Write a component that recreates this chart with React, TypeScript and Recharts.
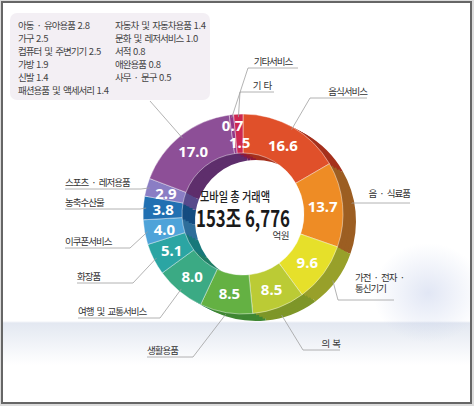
import React from 'react';
import { PieChart, Pie, Cell } from 'recharts';

// shares of mobile transaction value (%), clockwise from 12 o'clock
const categories = [
  '음식서비스',
  '음 · 식료품',
  '가전 · 전자 ·\n통신기기',
  '의 복',
  '생활용품',
  '여행 및 교통서비스',
  '화장품',
  '이쿠폰서비스',
  '농축수산물',
  '스포츠 · 레저용품',
  '기타 상품군',
  '기타서비스',
  '기 타',
];
const shares = [16.6, 13.7, 9.6, 8.5, 8.5, 8.0, 5.1, 4.0, 3.8, 2.9, 17.0, 0.7, 1.5];

// the grouped slice, listed in the box
const otherGoods = [
  '아동 · 유아용품', '가구', '컴퓨터 및 주변기기', '가방', '신발', '패션용품 및 액세서리',
  '자동차 및 자동차용품', '문화 및 레저서비스', '서적', '애완용품', '사무 · 문구',
];
const otherShares = [2.8, 2.5, 2.5, 1.9, 1.4, 1.4, 1.4, 1.0, 0.8, 0.8, 0.5];

const centerTitle = '모바일 총 거래액';
const centerTotal = '153조 6,776';
const centerUnit = '억원';

const faceColors = [
  '#E0502A', '#EE8C25', '#E6E02A', '#BBCB35', '#64B143', '#3BAA84', '#2BA5A3',
  '#4EA3D9', '#2170B2', '#8A7DC4', '#8D4F97', '#93378A', '#CE2850',
];
const sideColors = [
  '#A5301C', '#9C5E22', '#98A02A', '#7E9628', '#3F8733', '#1F7E66', '#17787A',
  '#2E6E9A', '#144C80', '#574A8C', '#5E2E6C', '#6A2264', '#8E1A38',
];

const data = categories.map((name, i) => ({ name, value: shares[i] }));

const CX = 238;
const CY = 209;
const R_IN = 61;
const R_OUT = 100;
const DEPTH = [13, 7];
const RAD = Math.PI / 180;
const KR = '"Noto Sans CJK KR", "Noto Sans", sans-serif';

// leader line elbows / text anchors for the outside labels
const callouts: any[] = [
  { elbow: [310, 98], end: 367, tx: 367, ty: 95, anchor: 'end' },
  { elbow: [352, 203], end: 410, tx: 410, ty: 197, anchor: 'end' },
  { elbow: [338, 300], end: 394, tx: 355, ty: 284, anchor: 'start' },
  { elbow: [303, 350], end: 340, tx: 340, ty: 347, anchor: 'end' },
  { elbow: [193, 357], end: 147, tx: 147, ty: 354, anchor: 'start' },
  { elbow: [160, 318], end: 78, tx: 78, ty: 315, anchor: 'start' },
  { elbow: [133, 283], end: 77, tx: 77, ty: 280, anchor: 'start' },
  { elbow: [130, 248], end: 65, tx: 65, ty: 245, anchor: 'start' },
  { elbow: [140, 209], end: 65, tx: 65, ty: 206, anchor: 'start' },
  { elbow: [141, 189], end: 65, tx: 65, ty: 186, anchor: 'start' },
  { elbow: [150, 101], end: 150 },
  { elbow: [248, 68], end: 298, tx: 273, ty: 65, anchor: 'middle' },
  { elbow: [240, 92], end: 274, tx: 262, ty: 89, anchor: 'middle' },
];

const valueRadius = (i: number) => (i === 11 ? 90 : i === 12 ? 72 : 80);

const renderLabel = (props: any) => {
  const { cx, cy, midAngle, outerRadius, index, value } = props;
  const dx = Math.cos(-midAngle * RAD);
  const dy = Math.sin(-midAngle * RAD);
  const c = callouts[index];
  const proj = Math.max(0, DEPTH[0] * dx + DEPTH[1] * dy);
  const sr = outerRadius + proj - 3;
  const sx = cx + sr * dx;
  const sy = cy + sr * dy;
  const vr = valueRadius(index);
  const lines = categories[index].split('\n');
  return (
    <g key={`lbl-${index}`}>
      <polyline
        points={`${sx},${sy} ${c.elbow[0]},${c.elbow[1]} ${c.end},${c.elbow[1]}`}
        fill="none"
        stroke="#a0a0a0"
        strokeWidth={0.8}
      />
      {c.tx !== undefined &&
        lines.map((t, k) => (
          <text
            key={k}
            x={c.tx}
            y={c.ty + k * 11 - (lines.length - 1) * 3}
            textAnchor={c.anchor}
            fontFamily={KR}
            fontSize={9.5}
            letterSpacing={-1}
            wordSpacing={2}
            fill="#333"
          >
            {t}
          </text>
        ))}
      <text
        x={cx + vr * dx}
        y={cy + vr * dy}
        textAnchor="middle"
        dominantBaseline="central"
        fontFamily='"Noto Sans", sans-serif'
        fontWeight={700}
        fontSize={15}
        fill="#fff"
      >
        {value.toFixed(1)}
      </text>
    </g>
  );
};

export default function App() {
  return (
    <div style={{ position: 'absolute', left: 0, top: 0, width: 474, height: 406, background: '#dcdcdc' }}>
      <div
        style={{
          position: 'absolute', left: 1, top: 1, width: 471, height: 403, boxSizing: 'border-box',
          border: '2px solid #666', overflow: 'hidden',
          background: 'linear-gradient(to bottom, #fff 0px, #fff 318px, #e3e8f1 320px, #fff 362px, #fff 100%)',
        }}
      >
        <div style={{
          position: 'absolute', left: 370, top: 240, width: 110, height: 100,
          background: 'radial-gradient(closest-side, rgba(170,185,225,0.35), rgba(255,255,255,0))',
        }} />
      </div>
      <div style={{ position: 'absolute', left: 0, top: 0 }}>
        <PieChart width={474} height={406}>
          {[1, 0.75, 0.5, 0.25].map((t) => (
            <Pie
              key={`side-${t}`}
              data={data}
              dataKey="value"
              cx={CX + DEPTH[0] * t}
              cy={CY + DEPTH[1] * t}
              innerRadius={R_IN}
              outerRadius={R_OUT}
              startAngle={90}
              endAngle={-270}
              stroke="none"
              isAnimationActive={false}
            >
              {data.map((_, i) => (
                <Cell key={i} fill={sideColors[i]} />
              ))}
            </Pie>
          ))}
          <Pie
            data={data}
            dataKey="value"
            cx={CX}
            cy={CY}
            innerRadius={R_IN}
            outerRadius={R_OUT}
            startAngle={90}
            endAngle={-270}
            stroke="rgba(255,255,255,0.55)"
            strokeWidth={0.8}
            label={renderLabel}
            labelLine={false}
            isAnimationActive={false}
          >
            {data.map((_, i) => (
              <Cell key={i} fill={faceColors[i]} />
            ))}
          </Pie>
        </PieChart>
      </div>
      <svg width={474} height={406} style={{ position: 'absolute', left: 0, top: 0, pointerEvents: 'none' }}>
        <rect x={10} y={13} width={200} height={87} rx={7} fill="#F3EFF4" />
        {otherGoods.map((g, i) => (
          <text
            key={g}
            x={i < 6 ? 18 : 115}
            y={28.5 + (i < 6 ? i : i - 6) * 13}
            fontFamily={KR}
            fontSize={9.5}
            fill="#444"
          >
            <tspan letterSpacing={-1} wordSpacing={2}>{g}</tspan>
            <tspan dx={2.5} letterSpacing={-0.3}>{otherShares[i].toFixed(1)}</tspan>
          </text>
        ))}
        <text x={200} y={201} fontFamily={KR} fontWeight={500} fontSize={13} fill="#222" textLength={70} lengthAdjust="spacingAndGlyphs">
          {centerTitle}
        </text>
        <text x={196} y={227} fontFamily={KR} fontWeight={700} fontSize={23} fill="#1a1a1a" textLength={94} lengthAdjust="spacingAndGlyphs">
          {centerTotal}
        </text>
        <text x={289} y={239} textAnchor="end" fontFamily={KR} fontSize={9.5} letterSpacing={-0.5} fill="#333">
          {centerUnit}
        </text>
      </svg>
    </div>
  );
}
